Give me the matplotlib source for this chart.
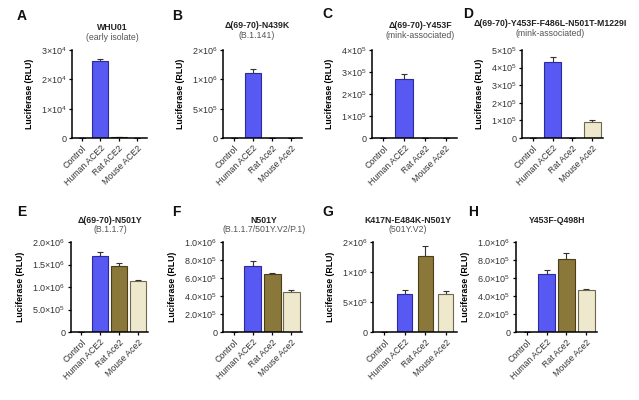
import numpy as np
import matplotlib
matplotlib.use("Agg")
import matplotlib.pyplot as plt

plt.rcParams['font.family'] = ['Liberation Sans', 'DejaVu Sans']
plt.rcParams['mathtext.fontset'] = 'custom'
plt.rcParams['mathtext.rm'] = 'Liberation Sans'
plt.rcParams['mathtext.it'] = 'Liberation Sans'
plt.rcParams['mathtext.bf'] = 'Liberation Sans:bold'

cats_a = ["Control", "Human ACE2", "Rat ACE2", "Mouse ACE2"]
cats = ["Control", "Human ACE2", "Rat Ace2", "Mouse Ace2"]

letters = ["A", "B", "C", "D", "E", "F", "G", "H"]
titles = ["WHU01", "Δ(69-70)-N439K", "Δ(69-70)-Y453F",
          "Δ(69-70)-Y453F-F486L-N501T-M1229I",
          "Δ(69-70)-N501Y", "N501Y", "K417N-E484K-N501Y", "Y453F-Q498H"]
subtitles = ["(early isolate)", "(B.1.141)", "(mink-associated)",
             "(mink-associated)", "(B.1.1.7)", "(B.1.1.7/501Y.V2/P.1)",
             "(501Y.V2)", ""]

vals_a = [150, 26200, 350, 120]
err_a = [0, 700, 150, 0]
vals_b = [0, 1.10e6, 5e3, 3e3]
err_b = [0, 0.07e6, 0, 0]
vals_c = [0, 2.70e5, 0, 0]
err_c = [0, 0.22e5, 0, 0]
vals_d = [0, 4.32e5, 0, 0.93e5]
err_d = [0, 0.26e5, 0, 0.11e5]
vals_e = [0, 1.69e6, 1.46e6, 1.14e6]
err_e = [0, 0.085e6, 0.07e6, 0.025e6]
vals_f = [0, 7.35e5, 6.4e5, 4.4e5]
err_f = [0, 0.5e5, 0.2e5, 0.25e5]
vals_g = [0, 6.3e5, 1.27e6, 6.3e5]
err_g = [0, 0.7e5, 0.16e6, 0.6e5]
vals_h = [0, 6.45e5, 8.1e5, 4.65e5]
err_h = [0, 0.4e5, 0.72e5, 0.15e5]

ticks_a = [0, 1e4, 2e4, 3e4]
tlab_a = ["0", "1×10^4", "2×10^4", "3×10^4"]
ticks_b = [0, 5e5, 1e6, 1.5e6]
tlab_b = ["0", "5×10^5", "1×10^6", "2×10^6"]
ticks_c = [0, 1e5, 2e5, 3e5, 4e5]
tlab_c = ["0", "1×10^5", "2×10^5", "3×10^5", "4×10^5"]
ticks_d = [0, 1e5, 2e5, 3e5, 4e5, 5e5]
tlab_d = ["0", "1×10^5", "2×10^5", "3×10^5", "4×10^5", "5×10^5"]
ticks_e = [0, 5e5, 1e6, 1.5e6, 2e6]
tlab_e = ["0", "5.0×10^5", "1.0×10^6", "1.5×10^6", "2.0×10^6"]
ticks_f = [0, 2e5, 4e5, 6e5, 8e5, 1e6]
tlab_f = ["0", "2.0×10^5", "4.0×10^5", "6.0×10^5", "8.0×10^5", "1.0×10^6"]

fills = ['#3a3a3a', '#5858F2', '#8A773A', '#EEE8CC']
edges = ['#222222', '#2B2B9E', '#4A3F18', '#6E6850']

panels = [
    (cats_a, vals_a, err_a, ticks_a, tlab_a),
    (cats, vals_b, err_b, ticks_b, tlab_b),
    (cats, vals_c, err_c, ticks_c, tlab_c),
    (cats, vals_d, err_d, ticks_d, tlab_d),
    (cats, vals_e, err_e, ticks_e, tlab_e),
    (cats, vals_f, err_f, ticks_f, tlab_f),
    (cats, vals_g, err_g, ticks_b, tlab_b),
    (cats, vals_h, err_h, ticks_f, tlab_f),
]

# axes boxes in pixels: left, right, top, bottom (from top of image)
W, H = 639, 400
boxes = [(72, 147, 50, 138), (223, 302, 50, 138), (372, 457, 50, 138), (522, 603, 50, 138),
         (71, 148, 242, 332), (223, 302, 242, 332), (373, 457, 242, 332), (516, 597, 242, 332)]
letter_pos = [(17, 16), (172, 16), (322, 14), (463, 14),
              (17, 212), (172, 212), (322, 212), (468, 212)]
title_x = [112, 257, 420, 550, 110, 264, 408, 557]
title_y = [27, 26, 25, 24, 220, 220, 220, 220]
sub_gap = [10, 10, 10, 10, 9, 9, 10, 9]
widths = [0.88, 0.85, 0.85, 0.85, 0.87, 0.87, 0.75, 0.87]

def fmt(s):
    if "^" in s:
        base, ex = s.split("^")
        base = base.replace("×", r"{\times}")
        return r"$\mathregular{" + base + "^{" + ex + "}}$"
    return s

fig = plt.figure(figsize=(6.39, 4.0), dpi=100)

for i, (cl, v, e, tk, tl) in enumerate(panels):
    l, r, t, b = boxes[i]
    ax = fig.add_axes([l / W, 1 - b / H, (r - l) / W, (b - t) / H])
    x = np.arange(len(cl))
    ax.bar(x, v, width=widths[i], color=fills, edgecolor=edges, linewidth=0.8, zorder=2)
    ax.errorbar(x, v, yerr=[np.zeros(len(e)), e], fmt='none', ecolor='#333333',
                elinewidth=0.8, capsize=2.5, capthick=0.8, zorder=1)
    ax.set_xlim(-0.55, 3.55)
    ax.set_ylim(0, tk[-1])
    ax.set_yticks(tk)
    ax.set_yticklabels([fmt(s) for s in tl], fontsize=6.5, color='#333333')
    ax.set_xticks(x)
    ax.set_xticklabels(cl, rotation=45, ha='right', rotation_mode='anchor',
                       fontsize=6.3, color='#333333')
    for s in ['top', 'right']:
        ax.spines[s].set_visible(False)
    for s in ['left', 'bottom']:
        ax.spines[s].set_linewidth(1.1)
    ax.tick_params(axis='both', length=2.5, width=0.9, pad=1.5)
    ax.set_ylabel("Luciferase (RLU)", fontsize=6.3, fontweight='bold', labelpad=5)

    cx = title_x[i] / W
    fig.text(cx, 1 - title_y[i] / H, titles[i], ha='center', va='center',
             fontsize=6.3, fontweight='bold', color='#222222')
    if subtitles[i]:
        fig.text(cx, 1 - (title_y[i] + sub_gap[i]) / H, subtitles[i], ha='center',
                 va='center', fontsize=6.3, color='#555555')
    lx, ly = letter_pos[i]
    fig.text(lx / W, 1 - ly / H, letters[i], ha='left', va='center',
             fontsize=10, fontweight='bold', color='#111111')

fig.savefig("out.png", dpi=100)
